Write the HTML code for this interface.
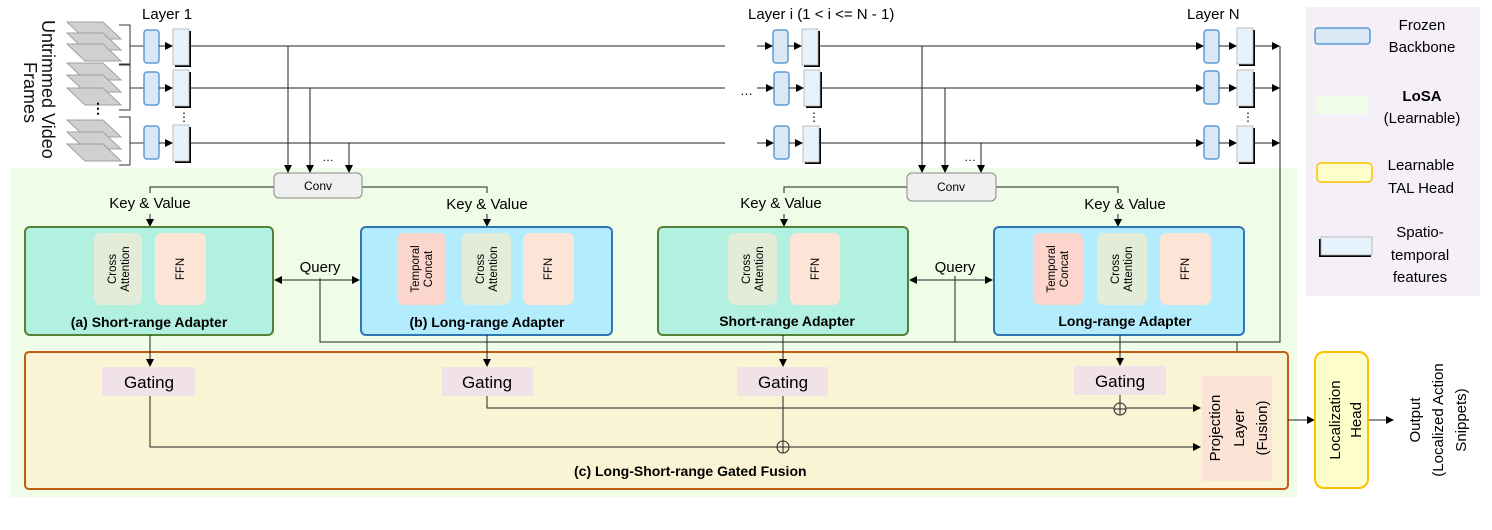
<!DOCTYPE html>
<html><head><meta charset="utf-8"><style>
html,body{margin:0;padding:0;background:#fff;}
svg{display:block;font-family:"Liberation Sans",sans-serif;}
</style></head><body>
<svg width="1492" height="530" viewBox="0 0 1492 530" xmlns="http://www.w3.org/2000/svg">
<defs>
<marker id="a" markerWidth="8" markerHeight="8" refX="7" refY="4" orient="auto" markerUnits="userSpaceOnUse"><path d="M0,0 L8,4 L0,8 z" fill="#000"/></marker>
<marker id="as" markerWidth="8" markerHeight="8" refX="1" refY="4" orient="auto" markerUnits="userSpaceOnUse"><path d="M8,0 L0,4 L8,8 z" fill="#000"/></marker>
<g id="ff"><polygon points="0,0 36,0 54,17 18,17" fill="#d0d0d0" stroke="#a0a0a0" stroke-width="1"/></g>
<g id="bb"><rect x="0" y="0" width="15" height="33" rx="3" fill="#dae8f6" stroke="#5b9bd5" stroke-width="1.5"/></g>
<g id="ft"><rect x="2" y="2" width="16" height="36" fill="#000"/><rect x="0" y="0" width="16" height="36" fill="#e6f3fc" stroke="#b0b0b0" stroke-width="0.8"/></g>
</defs>

<rect x="1306" y="7" width="174" height="289" fill="#f5f0f8"/>
<rect x="10" y="168" width="1287" height="329" fill="#effce8"/>

<g>
<use href="#ff" x="67" y="22"/><use href="#ff" x="67" y="33"/><use href="#ff" x="67" y="44"/>
<use href="#ff" x="67" y="63"/><use href="#ff" x="67" y="75"/><use href="#ff" x="67" y="88"/>
<use href="#ff" x="67" y="120"/><use href="#ff" x="67" y="132"/><use href="#ff" x="67" y="144"/>
<text x="91" y="113" font-size="14" font-weight="bold">⋮</text>
</g>
<g fill="none" stroke="#333" stroke-width="1">
<path d="M119,25 H130 V65 H119 M130,46 H144"/>
<path d="M119,64 H130 V110 H119 M130,88 H144"/>
<path d="M119,117 H130 V165 H119 M130,143 H144"/>
</g>
<text transform="translate(42,20) rotate(90)" font-size="18" fill="#111">Untrimmed Video</text>
<text transform="translate(24,62) rotate(90)" font-size="18" fill="#111">Frames</text>

<text x="142" y="19" font-size="15">Layer 1</text>
<text x="748" y="19" font-size="15">Layer i (1 &lt; i &lt;= N - 1)</text>
<text x="1187" y="19" font-size="15">Layer N</text>

<use href="#bb" x="144" y="30"/><use href="#bb" x="144" y="72"/><use href="#bb" x="144" y="126"/>
<use href="#ft" x="173" y="29"/><use href="#ft" x="173" y="70"/><use href="#ft" x="173" y="125"/>
<use href="#bb" x="773" y="30"/><use href="#bb" x="774" y="72"/><use href="#bb" x="774" y="126"/>
<use href="#ft" x="802" y="29"/><use href="#ft" x="804" y="70"/><use href="#ft" x="803" y="126"/>
<use href="#bb" x="1204" y="30"/><use href="#bb" x="1204" y="71"/><use href="#bb" x="1204" y="126"/>
<use href="#ft" x="1237" y="28"/><use href="#ft" x="1237" y="70"/><use href="#ft" x="1237" y="126"/>
<text x="178" y="121" font-size="12">⋮</text>
<text x="808" y="121" font-size="12">⋮</text>
<text x="1242" y="121" font-size="12">⋮</text>
<text x="740" y="95" font-size="13">…</text>

<g stroke="#222" stroke-width="1" fill="none">
<path d="M159,46 H172" marker-end="url(#a)"/><path d="M159,88 H172" marker-end="url(#a)"/><path d="M159,143 H172" marker-end="url(#a)"/>
<path d="M189,46 H725 M189,88 H725 M189,143 H725"/>
<path d="M757,46 H772" marker-end="url(#a)"/><path d="M757,88 H773" marker-end="url(#a)"/><path d="M757,143 H773" marker-end="url(#a)"/>
<path d="M788,46 H801" marker-end="url(#a)"/><path d="M789,88 H803" marker-end="url(#a)"/><path d="M789,143 H802" marker-end="url(#a)"/>
<path d="M818,46 H1203" marker-end="url(#a)"/><path d="M820,88 H1203" marker-end="url(#a)"/><path d="M819,143 H1203" marker-end="url(#a)"/>
<path d="M1219,46 H1236" marker-end="url(#a)"/><path d="M1219,88 H1236" marker-end="url(#a)"/><path d="M1219,143 H1236" marker-end="url(#a)"/>
<path d="M1254,46 H1279" marker-end="url(#a)"/><path d="M1254,88 H1279" marker-end="url(#a)"/><path d="M1254,143 H1279" marker-end="url(#a)"/>
<path d="M1280,46 V342 H320 V278"/>
<path d="M955,342 V276"/>
<path d="M1237,342 V374" marker-end="url(#a)"/>
<path d="M288,46 V172" marker-end="url(#a)"/><path d="M310,88 V172" marker-end="url(#a)"/><path d="M349,143 V172" marker-end="url(#a)"/>
<path d="M922,46 V172" marker-end="url(#a)"/><path d="M945,88 V172" marker-end="url(#a)"/><path d="M981,143 V172" marker-end="url(#a)"/>
<path d="M274,187 H150 V193"/><path d="M362,187 H487 V193"/>
<path d="M907,187 H784 V193"/><path d="M996,187 H1118 V193"/>
<path d="M150,214 V226" marker-end="url(#a)"/><path d="M487,214 V226" marker-end="url(#a)"/>
<path d="M784,214 V226" marker-end="url(#a)"/><path d="M1118,214 V226" marker-end="url(#a)"/>
<path d="M275,280 H359" marker-start="url(#as)" marker-end="url(#a)"/>
<path d="M910,280 H992" marker-start="url(#as)" marker-end="url(#a)"/>
</g>
<text x="322" y="161" font-size="12">…</text>
<text x="964" y="161" font-size="12">…</text>

<rect x="274" y="173" width="88" height="25" rx="5" fill="#f0f0f0" stroke="#888"/>
<text x="318" y="190" font-size="12" text-anchor="middle">Conv</text>
<rect x="907" y="173" width="89" height="28" rx="5" fill="#f0f0f0" stroke="#888"/>
<text x="951" y="191" font-size="12" text-anchor="middle">Conv</text>

<g font-size="15" text-anchor="middle">
<text x="150" y="208">Key &amp; Value</text><text x="487" y="209">Key &amp; Value</text>
<text x="781" y="208">Key &amp; Value</text><text x="1125" y="209">Key &amp; Value</text>
<text x="320" y="272">Query</text><text x="955" y="272">Query</text>
</g>

<rect x="25" y="227" width="248" height="108" rx="5" fill="#b2f0e0" stroke="#538135" stroke-width="2"/>
<rect x="361" y="227" width="251" height="108" rx="5" fill="#b3ecfc" stroke="#2e75b6" stroke-width="2"/>
<rect x="658" y="227" width="250" height="108" rx="5" fill="#b2f0e0" stroke="#538135" stroke-width="2"/>
<rect x="994" y="227" width="250" height="108" rx="5" fill="#b3ecfc" stroke="#2e75b6" stroke-width="2"/>
<g>
<rect x="94" y="233" width="48" height="72" rx="7" fill="#e2ecd8"/>
<rect x="155" y="233" width="51" height="72" rx="7" fill="#fce4d6"/>
<rect x="397" y="233" width="49" height="72" rx="7" fill="#fcd5cc"/>
<rect x="462" y="233" width="49" height="72" rx="7" fill="#e2ecd8"/>
<rect x="523" y="233" width="51" height="72" rx="7" fill="#fce4d6"/>
<rect x="728" y="233" width="49" height="72" rx="7" fill="#e2ecd8"/>
<rect x="790" y="233" width="50" height="72" rx="7" fill="#fce4d6"/>
<rect x="1033" y="233" width="50" height="72" rx="7" fill="#fcd5cc"/>
<rect x="1097" y="233" width="50" height="72" rx="7" fill="#e2ecd8"/>
<rect x="1160" y="233" width="51" height="72" rx="7" fill="#fce4d6"/>
</g>
<g font-size="11.5" text-anchor="middle">
<text transform="translate(116,269) rotate(-90)">Cross</text><text transform="translate(129,269) rotate(-90)">Attention</text>
<text transform="translate(184,269) rotate(-90)">FFN</text>
<text transform="translate(419,269) rotate(-90)">Temporal</text><text transform="translate(432,269) rotate(-90)">Concat</text>
<text transform="translate(484,269) rotate(-90)">Cross</text><text transform="translate(497,269) rotate(-90)">Attention</text>
<text transform="translate(552,269) rotate(-90)">FFN</text>
<text transform="translate(750,269) rotate(-90)">Cross</text><text transform="translate(763,269) rotate(-90)">Attention</text>
<text transform="translate(819,269) rotate(-90)">FFN</text>
<text transform="translate(1055,269) rotate(-90)">Temporal</text><text transform="translate(1068,269) rotate(-90)">Concat</text>
<text transform="translate(1119,269) rotate(-90)">Cross</text><text transform="translate(1132,269) rotate(-90)">Attention</text>
<text transform="translate(1189,269) rotate(-90)">FFN</text>
</g>
<g font-size="14" font-weight="bold" text-anchor="middle">
<text x="149" y="327">(a) Short-range Adapter</text>
<text x="487" y="327">(b) Long-range Adapter</text>
<text x="787" y="326">Short-range Adapter</text>
<text x="1125" y="326">Long-range Adapter</text>
</g>

<rect x="25" y="352" width="1263" height="137" rx="4" fill="#faf3d4" stroke="#c55a11" stroke-width="2"/>
<rect x="102" y="367" width="93" height="29" fill="#f1e2e8"/>
<rect x="442" y="367" width="91" height="29" fill="#f1e2e8"/>
<rect x="737" y="367" width="91" height="29" fill="#f1e2e8"/>
<rect x="1074" y="366" width="92" height="29" fill="#f1e2e8"/>
<g font-size="17" text-anchor="middle">
<text x="149" y="388">Gating</text><text x="487" y="388">Gating</text>
<text x="783" y="388">Gating</text><text x="1120" y="387">Gating</text>
</g>
<rect x="1202" y="376" width="70" height="105" fill="#fbe3d6"/>
<g font-size="15" text-anchor="middle">
<text transform="translate(1220,428) rotate(-90)">Projection</text>
<text transform="translate(1244,428) rotate(-90)">Layer</text>
<text transform="translate(1267,428) rotate(-90)">(Fusion)</text>
</g>
<g stroke="#222" stroke-width="1" fill="none">
<path d="M150,335 V366" marker-end="url(#a)"/><path d="M487,335 V366" marker-end="url(#a)"/>
<path d="M783,335 V366" marker-end="url(#a)"/><path d="M1120,335 V365" marker-end="url(#a)"/>
<path d="M150,396 V447 H1200" marker-end="url(#a)"/>
<path d="M487,396 V408 H1200" marker-end="url(#a)"/>
<path d="M783,396 V441"/><path d="M1120,395 V403"/>
<circle cx="783" cy="447" r="6" fill="#faf3d4"/><path d="M777,447 H789 M783,441 V453"/>
<circle cx="1120" cy="409" r="6" fill="#faf3d4"/><path d="M1114,409 H1126 M1120,403 V415"/>
<path d="M1288,420 H1314" marker-end="url(#a)"/>
<path d="M1368,420 H1393" marker-end="url(#a)"/>
</g>
<text x="574" y="476" font-size="14" font-weight="bold">(c) Long-Short-range Gated Fusion</text>

<rect x="1315" y="352" width="53" height="136" rx="9" fill="#ffffcc" stroke="#ffc000" stroke-width="2"/>
<g font-size="15" text-anchor="middle">
<text transform="translate(1340,420) rotate(-90)">Localization</text>
<text transform="translate(1361,420) rotate(-90)">Head</text>
<text transform="translate(1420,420) rotate(-90)">Output</text>
<text transform="translate(1443,420) rotate(-90)">(Localized Action</text>
<text transform="translate(1466,420) rotate(-90)">Snippets)</text>
</g>

<rect x="1315" y="28" width="55" height="16" rx="3" fill="#dae8f6" stroke="#5b9bd5" stroke-width="1.5"/>
<rect x="1316" y="96" width="52" height="18" fill="#effce8"/>
<rect x="1317" y="163" width="55" height="19" rx="4" fill="#ffffcc" stroke="#ffc000" stroke-width="1.5"/>
<rect x="1319" y="239" width="52" height="18" fill="#000"/>
<rect x="1321" y="237" width="51" height="18" fill="#e6f3fc" stroke="#b0b0b0" stroke-width="0.8"/>
<g font-size="15" text-anchor="middle">
<text x="1422" y="30">Frozen</text><text x="1422" y="52">Backbone</text>
<text x="1422" y="101" font-weight="bold">LoSA</text><text x="1422" y="123">(Learnable)</text>
<text x="1421" y="170">Learnable</text><text x="1421" y="193">TAL Head</text>
<text x="1420" y="237">Spatio-</text><text x="1420" y="260">temporal</text><text x="1420" y="282">features</text>
</g>
</svg>
</body></html>
